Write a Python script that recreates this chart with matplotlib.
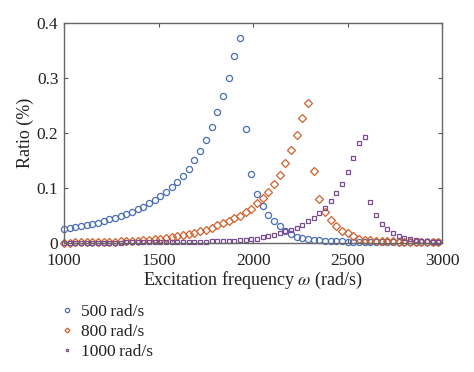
import numpy as np
import matplotlib
matplotlib.use('Agg')
import matplotlib.pyplot as plt

plt.rcParams['font.family'] = ['Liberation Serif', 'DejaVu Serif']
plt.rcParams['mathtext.fontset'] = 'stix'

# excitation frequency grid (rad/s)
freq = np.arange(1000, 3000, 30)

# ratio (%), one value per frequency
ratio_500 = [0.025, 0.027, 0.029, 0.031, 0.033, 0.035, 0.037, 0.040, 0.043, 0.046,
             0.049, 0.053, 0.057, 0.061, 0.066, 0.072, 0.078, 0.085, 0.093, 0.101,
             0.111, 0.122, 0.135, 0.150, 0.167, 0.188, 0.211, 0.238, 0.268, 0.300,
             0.340, 0.372, 0.207, 0.125, 0.089, 0.067, 0.051, 0.039, 0.030, 0.022,
             0.016, 0.011, 0.009, 0.007, 0.006, 0.005, 0.004, 0.004, 0.003, 0.003,
             0.002, 0.002, 0.002, 0.002, 0.001, 0.001, 0.001, 0.001, 0.001, 0.001,
             0.001, 0.001, 0.001, 0.001, 0.001, 0.001, 0.001]
ratio_800 = [0.000, 0.000, 0.001, 0.001, 0.001, 0.001, 0.001, 0.002, 0.002, 0.002,
             0.003, 0.003, 0.004, 0.004, 0.005, 0.006, 0.007, 0.008, 0.009, 0.010,
             0.012, 0.014, 0.016, 0.018, 0.021, 0.024, 0.028, 0.032, 0.036, 0.040,
             0.045, 0.049, 0.056, 0.062, 0.072, 0.081, 0.093, 0.107, 0.124, 0.145,
             0.169, 0.197, 0.228, 0.255, 0.130, 0.080, 0.056, 0.041, 0.030, 0.022,
             0.018, 0.012, 0.008, 0.006, 0.005, 0.004, 0.004, 0.003, 0.003, 0.002,
             0.002, 0.002, 0.001, 0.001, 0.001, 0.001, 0.001]
ratio_1000 = [0.000, 0.000, 0.000, 0.000, 0.000, 0.000, 0.000, 0.000, 0.000, 0.000,
              0.000, 0.001, 0.001, 0.001, 0.001, 0.001, 0.001, 0.001, 0.001, 0.001,
              0.001, 0.002, 0.002, 0.002, 0.002, 0.002, 0.003, 0.003, 0.003, 0.003,
              0.004, 0.005, 0.006, 0.007, 0.008, 0.010, 0.012, 0.015, 0.018, 0.021,
              0.024, 0.028, 0.033, 0.039, 0.046, 0.055, 0.064, 0.076, 0.090, 0.108,
              0.129, 0.155, 0.181, 0.192, 0.075, 0.050, 0.035, 0.025, 0.018, 0.013,
              0.009, 0.007, 0.005, 0.004, 0.003, 0.002, 0.002]

labels = ['500\u2009rad/s', '800\u2009rad/s', '1000\u2009rad/s']
colors = ['#4a6db4', '#d0612c', '#7b4a93']

fig = plt.figure(figsize=(4.74, 3.72), dpi=100)
ax = fig.add_axes([0.135, 0.347, 0.798, 0.591])

ax.plot(freq, ratio_500, 'o', ls='none', ms=4.4, mfc='none', mec=colors[0], mew=0.9, label=labels[0], clip_on=False)
ax.plot(freq, ratio_800, 'D', ls='none', ms=3.6, mfc='none', mec=colors[1], mew=0.9, label=labels[1], clip_on=False)
ax.plot(freq, ratio_1000, 's', ls='none', ms=2.8, mfc='none', mec=colors[2], mew=0.9, label=labels[2], clip_on=False)

ax.set_xlim(1000, 3000)
ax.set_ylim(0, 0.4)
ax.set_xticks([1000, 1500, 2000, 2500, 3000])
ax.set_yticks([0, 0.1, 0.2, 0.3, 0.4])
ax.set_yticklabels(['0', '0.1', '0.2', '0.3', '0.4'])
ax.tick_params(direction='in', top=True, right=True, length=3, width=0.8,
               colors='#555555', labelcolor='#222222', labelsize=12.5)
ax.tick_params(axis='x', pad=7)
ax.tick_params(axis='y', pad=4)
for s in ax.spines.values():
    s.set_color('#666666')
    s.set_linewidth(1.0)

ax.set_xlabel(r'Excitation frequency $\omega$ (rad/s)', fontsize=13, color='#222222', labelpad=1)
ax.set_ylabel('Ratio (%)', fontsize=13, color='#222222', labelpad=2)

leg = ax.legend(loc='upper left', bbox_to_anchor=(-0.055, -0.205), frameon=False,
                fontsize=12.5, handlelength=1.0, handletextpad=0.25, labelspacing=0.22,
                markerscale=0.7)
for t in leg.get_texts():
    t.set_color('#222222')

fig.savefig('out.png', dpi=100)
